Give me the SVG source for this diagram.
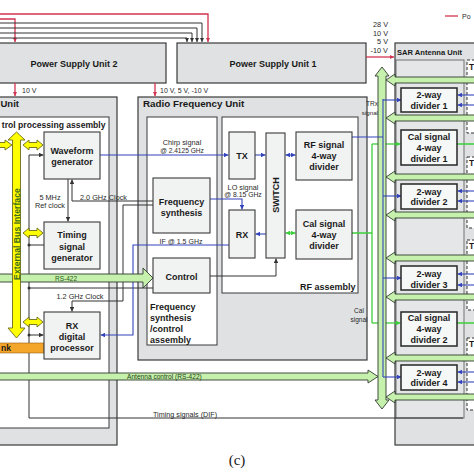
<svg xmlns="http://www.w3.org/2000/svg" width="474" height="474" viewBox="0 0 474 474">
<defs>
<style>
.unit{fill:#dfe1e2;stroke:#3a3a3a;stroke-width:1.2}
.asm{fill:#ffffff;stroke:#3a3a3a;stroke-width:1}
.box{fill:#f1f2f2;stroke:#3a3a3a;stroke-width:1.1}
.dbox{fill:#f6f7f7;stroke:#262626;stroke-width:1.5}
.tr{fill:#ffffff;stroke:#333;stroke-width:1;stroke-dasharray:3,2}
.t{font-family:"Liberation Sans",Arial,sans-serif;font-weight:bold;font-size:9px;fill:#1a1a1a;text-anchor:middle}
.s{font-family:"Liberation Sans",Arial,sans-serif;font-size:7.3px;fill:#2a2a2a}
.k{stroke:#333;stroke-width:1;fill:none}
.b{stroke:#3344bb;stroke-width:1.1;fill:none}
.r{stroke:#d2334f;stroke-width:1.3;fill:none}
.g{stroke:#3ccf3c;stroke-width:1.3;fill:none}
.ga{fill:#c6f1ad;stroke:#2f3a2f;stroke-width:0.9}
.ya{fill:#ffff00;stroke:#6b6b1a;stroke-width:0.9}
</style>
<marker id="ak" viewBox="0 0 10 10" refX="10" refY="5" markerWidth="4.5" markerHeight="4.5" orient="auto-start-reverse" markerUnits="userSpaceOnUse"><path d="M0,0 L10,5 L0,10 z" fill="#333"/></marker>
<marker id="ab" viewBox="0 0 10 10" refX="10" refY="5" markerWidth="4.5" markerHeight="4.5" orient="auto-start-reverse" markerUnits="userSpaceOnUse"><path d="M0,0 L10,5 L0,10 z" fill="#3344bb"/></marker>
<marker id="ar" viewBox="0 0 10 10" refX="10" refY="5" markerWidth="4.5" markerHeight="4.5" orient="auto-start-reverse" markerUnits="userSpaceOnUse"><path d="M0,0 L10,5 L0,10 z" fill="#d2334f"/></marker>
<marker id="ag" viewBox="0 0 10 10" refX="10" refY="5" markerWidth="4.5" markerHeight="4.5" orient="auto-start-reverse" markerUnits="userSpaceOnUse"><path d="M0,0 L10,5 L0,10 z" fill="#3ccf3c"/></marker>
</defs>
<rect width="474" height="474" fill="#ffffff"/>

<!-- containers -->
<g id="psu2"><rect x="-2" y="43" width="168" height="40" class="unit"/><text x="74" y="67" class="t">Power Supply Unit 2</text></g>
<g id="psu1"><rect x="177" y="43" width="189" height="40" class="unit"/><text x="273" y="67" class="t">Power Supply Unit 1</text></g>
<g id="control-unit"><rect x="-2" y="97" width="119" height="348" class="unit"/><text x="0.5" y="107" class="t" style="text-anchor:start;font-size:9.5px">Unit</text></g>
<g id="control-processing-assembly"><rect x="-2" y="117" width="111" height="311" class="asm"/><text x="105.5" y="128" class="t" style="text-anchor:end;font-size:8.6px">trol processing assembly</text></g>
<g id="rf-unit"><rect x="138" y="97" width="229" height="263" class="unit"/><text x="143" y="107" class="t" style="text-anchor:start;font-size:9.8px">Radio Frequency Unit</text></g>
<g id="fs-control-assembly"><rect x="147" y="117" width="70" height="228" class="asm"/>
<text class="t" style="text-anchor:start" x="150" y="309.5">Frequency</text>
<text class="t" style="text-anchor:start" x="150" y="320.5">synthesis</text>
<text class="t" style="text-anchor:start" x="150" y="331.5">/control</text>
<text class="t" style="text-anchor:start" x="150" y="342.5">assembly</text></g>
<g id="rf-assembly"><rect x="222" y="117" width="136" height="176" class="asm"/><text x="355.5" y="290" class="t" style="text-anchor:end">RF assembly</text></g>
<g id="sar-antenna-unit"><rect x="395" y="43" width="85" height="402" class="unit"/><rect x="396" y="60" width="68" height="358" fill="#e4e6e7" stroke="#555" stroke-width="0.8"/><text x="397" y="55" class="t" style="text-anchor:start;font-size:7.6px">SAR Antenna Unit</text></g>
<g id="tr-module-1"><rect x="467" y="60" width="12" height="73" class="tr"/><text x="469" y="70" class="t" style="text-anchor:start;font-size:8.5px">T</text></g>
<g id="tr-module-2"><rect x="467" y="157" width="12" height="71" class="tr"/><text x="469" y="166" class="t" style="text-anchor:start;font-size:8.5px">T</text></g>
<g id="tr-module-3"><rect x="467" y="240" width="12" height="70" class="tr"/><text x="469" y="249" class="t" style="text-anchor:start;font-size:8.5px">T</text></g>
<g id="tr-module-4"><rect x="467" y="338" width="12" height="72" class="tr"/><text x="469" y="347" class="t" style="text-anchor:start;font-size:8.5px">T</text></g>

<!-- connectors -->
<g id="connectors">
<path class="r" d="M-2,14 H208 V42" marker-end="url(#ar)"/>
<path class="r" d="M-2,19 H15 V42" marker-end="url(#ar)"/>
<path class="k" d="M-2,23 H202 V42" marker-end="url(#ak)"/>
<path class="k" d="M-2,28 H197 V42" marker-end="url(#ak)"/>
<path class="k" d="M-2,33 H192 V42" marker-end="url(#ak)"/>
<path class="k" d="M-2,38 H187 V42" marker-end="url(#ak)"/>
<path class="r" d="M15,83 V96" marker-end="url(#ar)"/>
<path class="r" d="M155,83 V96" marker-end="url(#ar)"/>
<path class="r" d="M366,57 H394" marker-end="url(#ar)"/>
<path class="r" d="M445,16 H458"/>
<text x="462" y="19" class="s" style="font-size:7px">Po</text>
<text x="22" y="93" class="s" style="font-size:7px">10 V</text>
<text x="160" y="92.5" class="s" style="font-size:7px">10 V, 5 V, -10 V</text>
<g class="s" style="text-anchor:end;font-size:7.3px">
<text x="388" y="27">28 V</text><text x="388" y="35.5">10 V</text><text x="388" y="44">5 V</text><text x="388" y="53">-10 V</text></g>

<path class="k" d="M29,155 V418 H463"/>
<path class="k" d="M29,155 H43.5" marker-end="url(#ak)"/>
<path class="k" d="M29,245 H44"/>
<path class="k" d="M29,288 H153"/>
<path class="k" d="M29,335 H43.5" marker-end="url(#ak)"/>
<circle cx="29" cy="245" r="1.5" fill="#333"/>
<circle cx="29" cy="288" r="1.5" fill="#333"/>
<circle cx="29" cy="335" r="1.5" fill="#333"/>
<path class="k" d="M68,179 V221.5" marker-end="url(#ak)"/>
<path class="k" d="M153,201 H72 V179.5" marker-end="url(#ak)"/>
<path class="k" d="M153,205 H123 V301 H72 V311.5" marker-end="url(#ak)"/>
<path class="k" d="M210,276 H276 V258.5" marker-end="url(#ak)"/>
<text class="s" x="50" y="199.5" text-anchor="middle">5 MHz</text>
<text class="s" x="50" y="207.5" text-anchor="middle">Ref clock</text>
<text class="s" x="103.5" y="200" text-anchor="middle">2.0 GHz Clock</text>
<text class="s" x="80" y="299" text-anchor="middle">1.2 GHz Clock</text>
<text class="s" x="153" y="416.5" style="font-size:7.2px">Timing signals (DIF)</text>

<path class="b" d="M100,155 H228.5" marker-end="url(#ab)"/>
<path class="b" d="M255,155 H265.5" marker-end="url(#ab)"/>
<path class="b" d="M285.5,155 H295.5" marker-start="url(#ab)" marker-end="url(#ab)"/>
<path class="b" d="M210,199 H242 V209.5" marker-end="url(#ab)"/>
<path class="b" d="M266,234 H255.5" marker-end="url(#ab)"/>
<path class="b" d="M229,245 H133 V335 H100.5" marker-end="url(#ab)"/>
<text class="s" x="182" y="145" text-anchor="middle">Chirp signal</text>
<text class="s" x="182" y="153.3" text-anchor="middle" style="font-size:6.6px">@ 2.4125 GHz</text>
<text class="s" x="243" y="189.5" text-anchor="middle">LO signal</text>
<text class="s" x="243" y="197" text-anchor="middle" style="font-size:6.8px">@ 8.15 GHz</text>
<text class="s" x="181" y="243.5" text-anchor="middle" style="font-size:7px">IF @ 1.5 GHz</text>

<path class="g" d="M285.5,233 H295.5" marker-start="url(#ag)" marker-end="url(#ag)"/>
<path class="g" d="M352,233 H372 M372,144 V323"/>
<path class="g" d="M372,144 H400.5" marker-end="url(#ag)"/>
<path class="g" d="M372,323 H400.5" marker-end="url(#ag)"/>
<path class="g" d="M457,144 H478 M457,323 H478"/>
<text class="s" x="359" y="313" text-anchor="middle" style="font-size:6.5px">Cal</text>
<text class="s" x="359" y="322" text-anchor="middle" style="font-size:6.5px">signal</text>
<text class="s" x="378" y="105.5" text-anchor="end" style="font-size:6.5px">TRx</text>
<text class="s" x="378" y="115" text-anchor="end" style="font-size:6.2px">signal</text>

<!-- buses -->
<path class="ga" d="M-2,274 L143,274 L143,268 L153,278 L143,288 L143,282 L-2,282 Z"/>
<text x="55" y="280.6" class="s" style="font-size:6.5px;fill:#2a5a1a">RS-422</text>
<path class="ga" d="M-2,373 L368,373 L368,370 L378,376.5 L368,383 L368,380 L-2,380 Z"/>
<text x="127" y="379" class="s" style="font-size:6.6px;fill:#1f3f10">Antenna control (RS-422)</text>
<path class="ya" d="M16.5,132 L25,140 L20.5,140 L20.5,328 L25,328 L16.5,338 L8,328 L12.5,328 L12.5,140 L8,140 Z"/>
<text transform="translate(19.6,234) rotate(-90)" class="t" style="font-size:8.7px;fill:#3d6b1e">External Bus Interface</text>
<path class="ya" d="M-2,142.5 L5,142.5 L5,140 L12,145 L5,150 L5,147.5 L-2,147.5 Z"/>
<path class="ya" d="M23,145 L29,140 L29,142.5 L37,142.5 L37,140 L43,145 L37,150 L37,147.5 L29,147.5 L29,150 Z"/>
<path class="ya" d="M23,233 L29,228 L29,230.5 L37,230.5 L37,228 L43,233 L37,238 L37,235.5 L29,235.5 L29,238 Z"/>
<path class="ya" d="M23,322 L29,317 L29,319.5 L37,319.5 L37,317 L43,322 L37,327 L37,324.5 L29,324.5 L29,327 Z"/>
<rect x="-2" y="343" width="46" height="10" fill="#f4a62a" stroke="#9a5e10" stroke-width="0.6"/>
<text x="1" y="351.2" class="t" style="text-anchor:start;font-size:8.5px">nk</text>
<path class="ga" d="M382,67 L389,76 L386,76 L386,400 L389,400 L382,409 L375,400 L378,400 L378,76 L375,76 Z"/>
<path class="ga" d="M386,80 L395,74 L395,77 L478,77 L478,83 L395,83 L395,86 Z"/>
<path class="ga" d="M386,118 L395,112 L395,115 L478,115 L478,121 L395,121 L395,124 Z"/>
<path class="ga" d="M386,177 L395,171 L395,174 L478,174 L478,180 L395,180 L395,183 Z"/>
<path class="ga" d="M386,215 L395,209 L395,212 L478,212 L478,218 L395,218 L395,221 Z"/>
<path class="ga" d="M386,258 L395,252 L395,255 L478,255 L478,261 L395,261 L395,264 Z"/>
<path class="ga" d="M386,297 L395,291 L395,294 L478,294 L478,300 L395,300 L395,303 Z"/>
<path class="ga" d="M386,358 L395,352 L395,355 L478,355 L478,361 L395,361 L395,364 Z"/>
<path class="ga" d="M386,397 L395,391 L395,394 L478,394 L478,400 L395,400 L395,403 Z"/>

<path class="b" d="M352,137 H383 M383,99 V377"/>
<path class="b" d="M383,100 H401.5" marker-end="url(#ab)"/>
<path class="b" d="M383,196 H401.5" marker-end="url(#ab)"/>
<path class="b" d="M383,278 H401.5" marker-end="url(#ab)"/>
<path class="b" d="M383,377 H401.5" marker-end="url(#ab)"/>
<path class="b" d="M476,95 H457.5" marker-end="url(#ab)"/>
<path class="b" d="M476,105 H457.5" marker-end="url(#ab)"/>
<path class="b" d="M476,191 H457.5" marker-end="url(#ab)"/>
<path class="b" d="M476,201 H457.5" marker-end="url(#ab)"/>
<path class="b" d="M476,274 H457.5" marker-end="url(#ab)"/>
<path class="b" d="M476,285 H457.5" marker-end="url(#ab)"/>
<path class="b" d="M476,372 H457.5" marker-end="url(#ab)"/>
<path class="b" d="M476,382 H457.5" marker-end="url(#ab)"/>
</g>

<!-- nodes -->
<g id="waveform-generator"><rect x="44" y="132" width="56" height="47" class="box"/><text class="t" x="72" y="154">Waveform</text><text class="t" x="72" y="164.5">generator</text></g>
<g id="timing-signal-generator"><rect x="44" y="222" width="56" height="47" class="box"/><text class="t" x="72" y="238">Timing</text><text class="t" x="72" y="249.5">signal</text><text class="t" x="72" y="260.5">generator</text></g>
<g id="rx-digital-processor"><rect x="44" y="312" width="56" height="47" class="box"/><text class="t" x="72" y="328.5">RX</text><text class="t" x="72" y="339.5">digital</text><text class="t" x="72" y="350.5">processor</text></g>
<g id="frequency-synthesis"><rect x="153" y="178" width="57" height="55" class="box"/><text class="t" x="181.5" y="205">Frequency</text><text class="t" x="181.5" y="215.5">synthesis</text></g>
<g id="control"><rect x="153" y="258" width="57" height="35" class="box"/><text class="t" x="181.5" y="279.5">Control</text></g>
<g id="tx"><rect x="229" y="132" width="26" height="47" class="box"/><text class="t" x="242" y="159">TX</text></g>
<g id="rx"><rect x="229" y="210" width="26" height="48" class="box"/><text class="t" x="242" y="237.5">RX</text></g>
<g id="switch"><rect x="266" y="133" width="19" height="125" class="box"/><text transform="translate(279,195) rotate(-90)" class="t">SWITCH</text></g>
<g id="rf-signal-divider"><rect x="296" y="132" width="56" height="48" class="box"/><text class="t" x="324" y="148">RF signal</text><text class="t" x="324" y="159">4-way</text><text class="t" x="324" y="170">divider</text></g>
<g id="cal-signal-divider"><rect x="296" y="210" width="56" height="49" class="box"/><text class="t" x="324" y="227">Cal signal</text><text class="t" x="324" y="238">4-way</text><text class="t" x="324" y="248.5">divider</text></g>
<g id="two-way-divider-1"><rect x="401" y="88" width="56" height="24" class="dbox"/><text class="t" x="429" y="98">2-way</text><text class="t" x="429" y="108.5">divider 1</text></g>
<g id="cal-4way-divider-1"><rect x="401" y="130" width="56" height="35" class="dbox"/><text class="t" x="429" y="140">Cal signal</text><text class="t" x="429" y="151">4-way</text><text class="t" x="429" y="162">divider 1</text></g>
<g id="two-way-divider-2"><rect x="401" y="184" width="56" height="25" class="dbox"/><text class="t" x="429" y="194.5">2-way</text><text class="t" x="429" y="205">divider 2</text></g>
<g id="two-way-divider-3"><rect x="401" y="266" width="56" height="24" class="dbox"/><text class="t" x="429" y="277">2-way</text><text class="t" x="429" y="287.5">divider 3</text></g>
<g id="cal-4way-divider-2"><rect x="401" y="312" width="56" height="34" class="dbox"/><text class="t" x="429" y="320.5">Cal signal</text><text class="t" x="429" y="331.5">4-way</text><text class="t" x="429" y="342.5">divider 2</text></g>
<g id="two-way-divider-4"><rect x="401" y="365" width="56" height="25" class="dbox"/><text class="t" x="429" y="375.5">2-way</text><text class="t" x="429" y="386">divider 4</text></g>

<text x="237" y="465" style="font-family:'Liberation Serif','Times New Roman',serif;font-size:15px;fill:#1a1a1a" text-anchor="middle">(c)</text>
</svg>
